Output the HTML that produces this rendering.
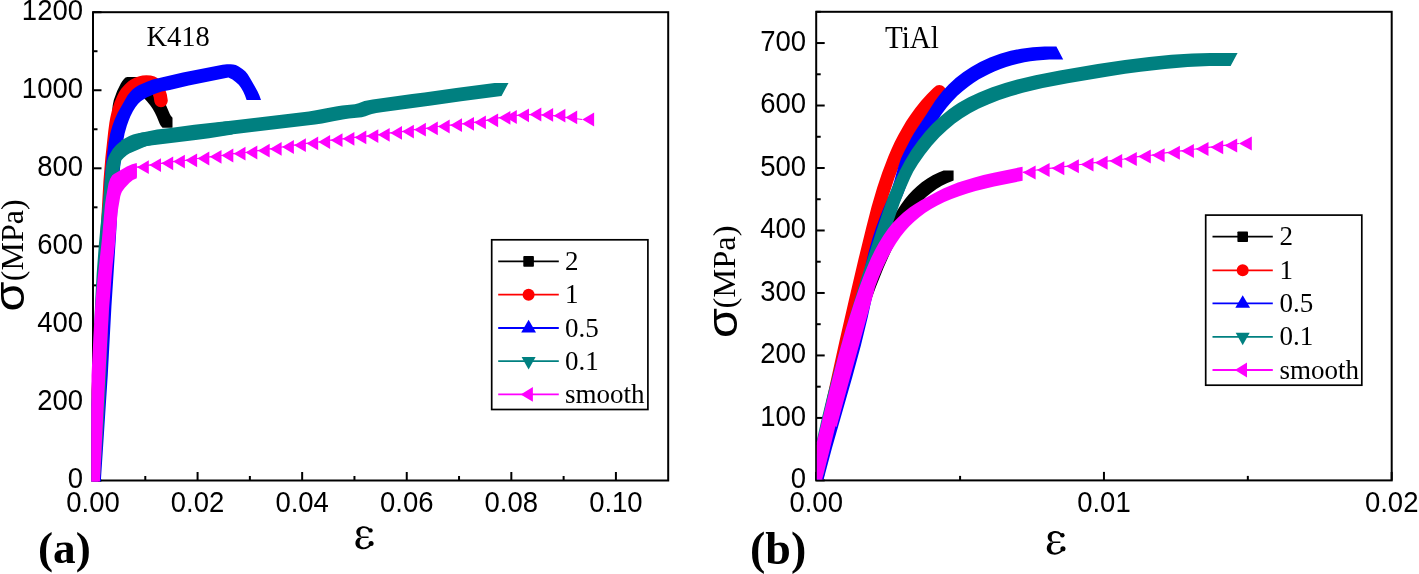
<!DOCTYPE html><html><head><meta charset="utf-8"><style>html,body{margin:0;padding:0;background:#fff;}svg{display:block;will-change:transform}</style></head><body>
<svg width="1419" height="574" viewBox="0 0 1419 574">
<rect width="1419" height="574" fill="#fff"/>
<rect x="93.0" y="12.2" width="575.20" height="468.30" fill="none" stroke="#000" stroke-width="2"/>
<line x1="93.00" y1="480.5" x2="93.00" y2="472.0" stroke="#000" stroke-width="2"/>
<line x1="197.58" y1="480.5" x2="197.58" y2="472.0" stroke="#000" stroke-width="2"/>
<line x1="302.16" y1="480.5" x2="302.16" y2="472.0" stroke="#000" stroke-width="2"/>
<line x1="406.75" y1="480.5" x2="406.75" y2="472.0" stroke="#000" stroke-width="2"/>
<line x1="511.33" y1="480.5" x2="511.33" y2="472.0" stroke="#000" stroke-width="2"/>
<line x1="615.91" y1="480.5" x2="615.91" y2="472.0" stroke="#000" stroke-width="2"/>
<line x1="145.29" y1="480.5" x2="145.29" y2="476.0" stroke="#000" stroke-width="2"/>
<line x1="249.87" y1="480.5" x2="249.87" y2="476.0" stroke="#000" stroke-width="2"/>
<line x1="354.45" y1="480.5" x2="354.45" y2="476.0" stroke="#000" stroke-width="2"/>
<line x1="459.04" y1="480.5" x2="459.04" y2="476.0" stroke="#000" stroke-width="2"/>
<line x1="563.62" y1="480.5" x2="563.62" y2="476.0" stroke="#000" stroke-width="2"/>
<line x1="93.0" y1="480.50" x2="101.5" y2="480.50" stroke="#000" stroke-width="2"/>
<line x1="93.0" y1="402.45" x2="101.5" y2="402.45" stroke="#000" stroke-width="2"/>
<line x1="93.0" y1="324.40" x2="101.5" y2="324.40" stroke="#000" stroke-width="2"/>
<line x1="93.0" y1="246.35" x2="101.5" y2="246.35" stroke="#000" stroke-width="2"/>
<line x1="93.0" y1="168.30" x2="101.5" y2="168.30" stroke="#000" stroke-width="2"/>
<line x1="93.0" y1="90.25" x2="101.5" y2="90.25" stroke="#000" stroke-width="2"/>
<line x1="93.0" y1="12.20" x2="101.5" y2="12.20" stroke="#000" stroke-width="2"/>
<line x1="93.0" y1="441.48" x2="97.5" y2="441.48" stroke="#000" stroke-width="2"/>
<line x1="93.0" y1="363.43" x2="97.5" y2="363.43" stroke="#000" stroke-width="2"/>
<line x1="93.0" y1="285.38" x2="97.5" y2="285.38" stroke="#000" stroke-width="2"/>
<line x1="93.0" y1="207.32" x2="97.5" y2="207.32" stroke="#000" stroke-width="2"/>
<line x1="93.0" y1="129.27" x2="97.5" y2="129.27" stroke="#000" stroke-width="2"/>
<line x1="93.0" y1="51.23" x2="97.5" y2="51.23" stroke="#000" stroke-width="2"/>
<text transform="translate(93.00,512.1) scale(1,1.09)" font-family="Liberation Sans, sans-serif" font-size="27.5" text-anchor="middle">0.00</text>
<text transform="translate(197.58,512.1) scale(1,1.09)" font-family="Liberation Sans, sans-serif" font-size="27.5" text-anchor="middle">0.02</text>
<text transform="translate(302.16,512.1) scale(1,1.09)" font-family="Liberation Sans, sans-serif" font-size="27.5" text-anchor="middle">0.04</text>
<text transform="translate(406.75,512.1) scale(1,1.09)" font-family="Liberation Sans, sans-serif" font-size="27.5" text-anchor="middle">0.06</text>
<text transform="translate(511.33,512.1) scale(1,1.09)" font-family="Liberation Sans, sans-serif" font-size="27.5" text-anchor="middle">0.08</text>
<text transform="translate(615.91,512.1) scale(1,1.09)" font-family="Liberation Sans, sans-serif" font-size="27.5" text-anchor="middle">0.10</text>
<text transform="translate(83,488.40) scale(1,1.09)" font-family="Liberation Sans, sans-serif" font-size="27.5" text-anchor="end">0</text>
<text transform="translate(83,410.35) scale(1,1.09)" font-family="Liberation Sans, sans-serif" font-size="27.5" text-anchor="end">200</text>
<text transform="translate(83,332.30) scale(1,1.09)" font-family="Liberation Sans, sans-serif" font-size="27.5" text-anchor="end">400</text>
<text transform="translate(83,254.25) scale(1,1.09)" font-family="Liberation Sans, sans-serif" font-size="27.5" text-anchor="end">600</text>
<text transform="translate(83,176.20) scale(1,1.09)" font-family="Liberation Sans, sans-serif" font-size="27.5" text-anchor="end">800</text>
<text transform="translate(83,98.15) scale(1,1.09)" font-family="Liberation Sans, sans-serif" font-size="27.5" text-anchor="end">1000</text>
<text transform="translate(83,20.10) scale(1,1.09)" font-family="Liberation Sans, sans-serif" font-size="27.5" text-anchor="end">1200</text>
<rect x="816.2" y="11.8" width="575.50" height="468.60" fill="none" stroke="#000" stroke-width="2"/>
<line x1="816.20" y1="480.4" x2="816.20" y2="471.9" stroke="#000" stroke-width="2"/>
<line x1="1103.95" y1="480.4" x2="1103.95" y2="471.9" stroke="#000" stroke-width="2"/>
<line x1="1391.70" y1="480.4" x2="1391.70" y2="471.9" stroke="#000" stroke-width="2"/>
<line x1="960.08" y1="480.4" x2="960.08" y2="475.9" stroke="#000" stroke-width="2"/>
<line x1="1247.83" y1="480.4" x2="1247.83" y2="475.9" stroke="#000" stroke-width="2"/>
<line x1="816.2" y1="480.40" x2="824.7" y2="480.40" stroke="#000" stroke-width="2"/>
<line x1="816.2" y1="417.92" x2="824.7" y2="417.92" stroke="#000" stroke-width="2"/>
<line x1="816.2" y1="355.44" x2="824.7" y2="355.44" stroke="#000" stroke-width="2"/>
<line x1="816.2" y1="292.96" x2="824.7" y2="292.96" stroke="#000" stroke-width="2"/>
<line x1="816.2" y1="230.48" x2="824.7" y2="230.48" stroke="#000" stroke-width="2"/>
<line x1="816.2" y1="168.00" x2="824.7" y2="168.00" stroke="#000" stroke-width="2"/>
<line x1="816.2" y1="105.52" x2="824.7" y2="105.52" stroke="#000" stroke-width="2"/>
<line x1="816.2" y1="43.04" x2="824.7" y2="43.04" stroke="#000" stroke-width="2"/>
<line x1="816.2" y1="449.16" x2="820.7" y2="449.16" stroke="#000" stroke-width="2"/>
<line x1="816.2" y1="386.68" x2="820.7" y2="386.68" stroke="#000" stroke-width="2"/>
<line x1="816.2" y1="324.20" x2="820.7" y2="324.20" stroke="#000" stroke-width="2"/>
<line x1="816.2" y1="261.72" x2="820.7" y2="261.72" stroke="#000" stroke-width="2"/>
<line x1="816.2" y1="199.24" x2="820.7" y2="199.24" stroke="#000" stroke-width="2"/>
<line x1="816.2" y1="136.76" x2="820.7" y2="136.76" stroke="#000" stroke-width="2"/>
<line x1="816.2" y1="74.28" x2="820.7" y2="74.28" stroke="#000" stroke-width="2"/>
<line x1="816.2" y1="11.80" x2="820.7" y2="11.80" stroke="#000" stroke-width="2"/>
<text transform="translate(816.20,512.1) scale(1,1.09)" font-family="Liberation Sans, sans-serif" font-size="27.5" text-anchor="middle">0.00</text>
<text transform="translate(1103.95,512.1) scale(1,1.09)" font-family="Liberation Sans, sans-serif" font-size="27.5" text-anchor="middle">0.01</text>
<text transform="translate(1391.70,512.1) scale(1,1.09)" font-family="Liberation Sans, sans-serif" font-size="27.5" text-anchor="middle">0.02</text>
<text transform="translate(806,488.30) scale(1,1.09)" font-family="Liberation Sans, sans-serif" font-size="27.5" text-anchor="end">0</text>
<text transform="translate(806,425.82) scale(1,1.09)" font-family="Liberation Sans, sans-serif" font-size="27.5" text-anchor="end">100</text>
<text transform="translate(806,363.34) scale(1,1.09)" font-family="Liberation Sans, sans-serif" font-size="27.5" text-anchor="end">200</text>
<text transform="translate(806,300.86) scale(1,1.09)" font-family="Liberation Sans, sans-serif" font-size="27.5" text-anchor="end">300</text>
<text transform="translate(806,238.38) scale(1,1.09)" font-family="Liberation Sans, sans-serif" font-size="27.5" text-anchor="end">400</text>
<text transform="translate(806,175.90) scale(1,1.09)" font-family="Liberation Sans, sans-serif" font-size="27.5" text-anchor="end">500</text>
<text transform="translate(806,113.42) scale(1,1.09)" font-family="Liberation Sans, sans-serif" font-size="27.5" text-anchor="end">600</text>
<text transform="translate(806,50.94) scale(1,1.09)" font-family="Liberation Sans, sans-serif" font-size="27.5" text-anchor="end">700</text>
<path d="M95.9,356.0 91.5,433.0 91.5,481.5 99.2,481.5 105.6,372.7 109.2,300.6 114.3,214.7 116.6,185.5 120.5,145.0 121.5,129.0 122.3,118.4 122.8,114.3 123.5,111.4 126.1,103.7 128.0,99.1 130.1,94.7 132.0,91.4 133.9,89.0 139.9,94.1 143.1,97.1 146.9,101.2 150.4,105.5 152.8,109.0 154.9,112.7 156.7,116.6 159.8,124.1 160.8,125.7 162.5,127.7 172.5,127.7 172.5,117.7 170.8,115.7 169.8,114.1 165.4,103.8 164.0,101.0 162.2,98.0 159.6,94.5 156.9,91.2 154.0,88.0 150.8,84.9 143.6,78.8 141.4,77.8 138.8,77.1 127.4,77.0 125.5,77.6 124.0,78.9 122.4,80.9 120.8,83.5 117.1,91.1 113.8,100.1 112.7,105.5 111.5,118.4 110.5,135.6 106.7,174.3 104.4,203.5 99.2,291.2Z" fill="#000000"/>
<path d="M99.7,481.5 116.8,183.3 118.7,159.7 121.5,134.1 122.7,124.6 123.7,119.5 125.4,112.3 127.0,107.1 129.4,101.3 131.5,97.7 134.2,94.4 137.3,91.8 139.8,90.3 143.2,89.1 146.4,88.7 149.6,89.1 150.3,90.0 151.8,92.6 153.2,95.8 153.7,97.5 154.4,101.8 154.8,103.1 155.4,104.3 156.2,105.3 157.2,106.1 158.4,106.7 159.7,107.1 161.0,107.2 162.3,107.1 163.6,106.7 164.8,106.1 165.8,105.3 166.6,104.3 167.2,103.1 167.6,101.8 167.8,100.5 166.8,94.3 164.9,88.8 161.9,83.0 159.6,79.9 157.3,77.9 154.5,76.5 150.8,75.6 146.4,75.2 142.5,75.5 139.3,76.2 134.7,77.8 130.8,79.8 128.3,81.6 124.6,84.9 121.3,88.7 119.3,91.7 117.0,96.2 114.8,101.4 113.4,105.4 111.8,110.9 110.3,117.5 109.4,122.6 108.2,131.4 105.3,158.3 103.4,181.6 91.5,390.4 91.5,481.5Z" fill="#ff0000"/>
<path d="M100.8,481.5 107.8,374.5 111.4,306.9 116.1,234.1 119.3,176.1 121.0,158.4 123.0,142.1 124.6,133.5 126.8,125.7 128.5,120.9 130.4,116.3 132.9,111.3 135.4,107.3 138.1,103.8 140.8,101.3 143.3,99.4 146.6,97.6 155.2,93.8 161.8,91.6 169.9,89.9 188.8,85.4 227.2,77.8 228.4,77.6 230.4,78.4 232.1,79.3 235.7,81.9 238.8,84.8 241.0,87.7 243.2,91.4 245.0,95.4 246.6,99.9 261.0,99.9 259.4,95.4 257.6,91.4 249.8,77.7 247.5,74.1 245.2,71.3 242.4,68.9 238.7,66.4 235.8,65.0 233.1,64.4 230.7,64.2 226.9,64.3 222.5,64.8 182.8,72.5 152.8,79.5 146.9,81.7 138.8,85.3 135.5,87.2 132.6,89.5 130.1,92.2 127.5,95.6 117.6,113.0 114.8,119.2 112.4,125.7 110.2,133.5 108.6,142.1 106.7,157.7 105.0,175.5 101.6,234.7 97.0,305.7 94.2,361.5 91.5,404.9 91.5,481.5Z" fill="#0000ff"/>
<path d="M100.5,474.0 103.8,422.4 105.4,396.0 106.4,372.7 108.9,304.4 110.1,283.5 111.6,260.3 114.0,230.8 117.4,198.5 118.9,177.3 119.8,167.5 120.4,164.1 121.4,160.2 123.7,157.7 126.6,155.3 129.2,153.6 143.7,147.2 147.0,146.1 151.7,144.9 163.3,142.7 177.2,141.0 201.1,137.7 237.5,133.8 315.2,124.5 322.2,123.4 333.3,121.2 344.2,119.3 349.1,118.6 361.8,117.3 365.5,116.3 369.5,114.7 371.9,113.9 376.4,113.0 383.2,111.9 431.4,105.6 461.2,101.3 501.5,96.1 508.5,83.1 494.5,83.1 456.1,88.1 424.4,92.6 412.0,94.1 372.5,99.5 364.4,101.1 358.5,103.3 354.8,104.3 342.1,105.6 337.2,106.3 326.3,108.2 315.8,110.3 308.7,111.4 230.5,120.8 194.1,124.7 170.2,128.0 157.0,129.6 144.7,131.9 140.0,133.1 136.7,134.2 122.2,140.6 119.6,142.3 116.7,144.7 114.6,146.9 112.7,149.2 109.9,153.9 108.4,157.1 107.4,159.9 106.5,163.5 106.0,166.4 105.0,176.7 103.3,199.6 100.4,227.5 98.8,245.3 96.7,273.2 95.2,300.0 91.5,393.5 91.5,481.5 96.5,481.5Z" fill="#008080"/>
<path d="M136.0,133.7 133.1,134.6 129.3,136.1 121.0,140.5 128.0,153.5 134.6,149.9 137.9,148.4 142.4,146.9 146.5,145.9 195.8,140.1 209.2,138.2 232.5,134.5 239.5,121.5 225.5,121.5 191.8,126.7 155.0,131.2 142.2,132.5Z" fill="#008080"/>
<path d="M98.2,481.5 105.9,331.0 106.9,313.5 109.0,289.3 113.8,245.9 116.7,212.4 117.8,204.7 120.1,191.8 120.7,189.0 121.6,186.7 122.6,184.4 123.6,182.8 124.4,181.9 125.8,180.8 128.0,179.6 131.5,178.2 136.8,176.7 136.8,162.9 132.1,164.2 126.9,166.4 114.0,173.9 112.6,175.0 111.8,175.9 110.3,178.6 108.6,183.2 106.2,196.6 104.9,205.5 101.9,239.5 97.6,278.6 95.7,299.4 94.3,320.1 91.5,375.2 91.5,481.5Z" fill="#ff00ff"/>
<path d="M99.9,481.5 105.2,377.7 108.9,310.7 111.7,274.9 112.7,264.2 114.8,245.8 117.5,213.2 118.3,207.7 120.3,196.3 121.0,194.0 121.9,191.8 123.3,189.7 124.8,187.8 129.5,182.7 132.9,180.1 136.8,178.3 136.8,164.5 133.5,166.0 120.1,173.8 116.4,177.1 111.8,182.3 109.9,185.4 108.8,188.3 106.6,200.2 105.7,206.3 103.0,238.9 100.1,265.8 97.8,294.7 95.8,325.6 91.5,407.9 91.5,481.5Z" fill="#ff00ff"/>
<polyline points="137.0,167.2 149.2,165.1 161.4,163.3 173.1,161.6 185.3,160.3 197.5,158.5 209.7,156.8 221.5,155.5 233.7,153.7 245.5,152.5 257.9,150.7 269.8,148.9 282.1,147.0 294.1,145.2 306.4,143.4 318.3,142.0 330.7,140.2 342.6,138.8 354.5,137.4 366.5,136.1 377.9,134.8 390.2,132.9 402.1,131.6 414.1,129.7 426.0,128.4 437.9,126.5 450.2,125.2 462.2,123.8 474.1,122.4 486.3,120.3 498.6,117.8 505.0,117.0 517.2,115.3 529.5,114.5 541.3,114.9 553.6,115.7 565.4,117.4 582.3,119.5" fill="none" stroke="#ff00ff" stroke-width="1.2"/>
<polygon points="137.0,167.2 148.8,160.3 148.8,174.1" fill="#ff00ff"/>
<polygon points="149.2,165.1 161.0,158.2 161.0,172.0" fill="#ff00ff"/>
<polygon points="161.4,163.3 173.2,156.4 173.2,170.2" fill="#ff00ff"/>
<polygon points="173.1,161.6 184.9,154.7 184.9,168.5" fill="#ff00ff"/>
<polygon points="185.3,160.3 197.1,153.4 197.1,167.2" fill="#ff00ff"/>
<polygon points="197.5,158.5 209.3,151.6 209.3,165.4" fill="#ff00ff"/>
<polygon points="209.7,156.8 221.5,149.9 221.5,163.7" fill="#ff00ff"/>
<polygon points="221.5,155.5 233.3,148.6 233.3,162.4" fill="#ff00ff"/>
<polygon points="233.7,153.7 245.5,146.8 245.5,160.6" fill="#ff00ff"/>
<polygon points="245.5,152.5 257.3,145.6 257.3,159.4" fill="#ff00ff"/>
<polygon points="257.9,150.7 269.7,143.8 269.7,157.6" fill="#ff00ff"/>
<polygon points="269.8,148.9 281.6,142.0 281.6,155.8" fill="#ff00ff"/>
<polygon points="282.1,147.0 293.9,140.1 293.9,153.9" fill="#ff00ff"/>
<polygon points="294.1,145.2 305.9,138.3 305.9,152.1" fill="#ff00ff"/>
<polygon points="306.4,143.4 318.2,136.5 318.2,150.3" fill="#ff00ff"/>
<polygon points="318.3,142.0 330.1,135.1 330.1,148.9" fill="#ff00ff"/>
<polygon points="330.7,140.2 342.5,133.3 342.5,147.1" fill="#ff00ff"/>
<polygon points="342.6,138.8 354.4,131.9 354.4,145.7" fill="#ff00ff"/>
<polygon points="354.5,137.4 366.3,130.5 366.3,144.3" fill="#ff00ff"/>
<polygon points="366.5,136.1 378.3,129.2 378.3,143.0" fill="#ff00ff"/>
<polygon points="377.9,134.8 389.7,127.9 389.7,141.7" fill="#ff00ff"/>
<polygon points="390.2,132.9 402.0,126.0 402.0,139.8" fill="#ff00ff"/>
<polygon points="402.1,131.6 413.9,124.7 413.9,138.5" fill="#ff00ff"/>
<polygon points="414.1,129.7 425.9,122.8 425.9,136.6" fill="#ff00ff"/>
<polygon points="426.0,128.4 437.8,121.5 437.8,135.3" fill="#ff00ff"/>
<polygon points="437.9,126.5 449.7,119.6 449.7,133.4" fill="#ff00ff"/>
<polygon points="450.2,125.2 462.0,118.3 462.0,132.1" fill="#ff00ff"/>
<polygon points="462.2,123.8 474.0,116.9 474.0,130.7" fill="#ff00ff"/>
<polygon points="474.1,122.4 485.9,115.5 485.9,129.3" fill="#ff00ff"/>
<polygon points="486.3,120.3 498.1,113.4 498.1,127.2" fill="#ff00ff"/>
<polygon points="498.6,117.8 510.4,110.9 510.4,124.7" fill="#ff00ff"/>
<polygon points="505.0,117.0 516.8,110.1 516.8,123.9" fill="#ff00ff"/>
<polygon points="517.2,115.3 529.0,108.4 529.0,122.2" fill="#ff00ff"/>
<polygon points="529.5,114.5 541.3,107.6 541.3,121.4" fill="#ff00ff"/>
<polygon points="541.3,114.9 553.1,108.0 553.1,121.8" fill="#ff00ff"/>
<polygon points="553.6,115.7 565.4,108.8 565.4,122.6" fill="#ff00ff"/>
<polygon points="565.4,117.4 577.2,110.5 577.2,124.3" fill="#ff00ff"/>
<polygon points="582.3,119.5 594.1,112.6 594.1,126.4" fill="#ff00ff"/>
<path d="M829.4,398.5 816.9,450.2 816.9,479.6 822.2,479.6 841.8,398.6 848.4,373.3 854.7,350.6 861.6,327.9 868.6,306.7 875.9,286.9 883.5,267.9 891.3,250.4 899.3,234.4 905.9,222.4 909.1,217.4 912.4,212.6 916.7,207.0 921.4,201.7 926.0,197.1 931.0,192.9 936.4,189.0 941.7,185.8 947.4,183.0 953.6,180.5 953.6,170.5 943.6,170.5 938.6,172.5 932.8,175.2 927.4,178.4 921.9,182.2 916.9,186.4 912.6,190.4 908.6,194.7 904.9,199.3 901.1,204.5 897.5,209.9 893.8,216.0 890.1,222.8 886.0,230.7 876.9,250.2 868.3,270.7 860.0,292.7 852.1,316.2 844.7,340.6 837.1,368.0Z" fill="#000000"/>
<path d="M829.4,386.7 816.9,444.9 816.9,479.6 823.4,479.6 842.6,389.3 860.0,311.6 869.5,271.2 878.9,232.3 884.2,211.6 889.1,194.6 894.5,178.1 900.2,163.0 906.2,149.4 909.6,142.5 912.6,136.9 919.7,125.4 923.3,120.1 927.2,114.9 930.8,110.4 935.2,105.5 939.7,100.8 944.1,96.6 944.9,95.6 945.5,94.4 945.9,93.1 946.1,91.8 945.9,90.5 945.5,89.2 944.9,88.1 944.1,87.0 943.1,86.2 941.9,85.6 940.6,85.2 939.3,85.1 938.0,85.2 936.7,85.6 935.6,86.2 933.2,88.3 927.2,94.2 921.3,100.8 915.3,108.3 910.1,115.4 906.2,121.3 902.3,127.9 898.2,135.2 894.7,142.1 891.5,149.0 888.2,156.7 882.2,172.4 877.1,187.8 871.6,206.6 866.4,226.7 858.6,258.6 849.1,299.1 839.3,341.7Z" fill="#ff0000"/>
<path d="M838.9,376.9 816.9,453.7 816.9,479.6 823.6,479.6 832.0,447.9 852.2,377.4 860.9,345.5 867.8,316.9 878.9,265.2 881.9,252.9 884.9,241.9 888.7,229.9 892.7,218.6 896.6,209.1 902.9,194.8 905.3,188.6 907.5,181.7 911.8,166.6 914.1,159.8 916.9,153.2 920.5,146.5 924.0,140.9 932.8,128.0 941.0,115.1 946.8,107.3 951.8,101.4 957.3,95.8 963.1,90.7 969.1,85.9 974.0,82.5 979.0,79.3 984.2,76.4 989.6,73.7 995.0,71.2 1000.6,69.0 1006.2,67.0 1012.0,65.2 1017.9,63.7 1024.4,62.3 1030.4,61.3 1037.0,60.4 1049.4,59.5 1063.2,59.5 1056.4,46.5 1044.6,46.4 1032.7,47.2 1021.2,48.7 1010.5,50.8 1000.1,53.8 989.9,57.5 980.1,62.0 971.3,66.9 963.3,72.2 955.8,78.0 948.8,84.5 942.7,91.1 938.5,96.2 935.0,101.1 926.0,115.0 917.3,127.9 913.8,133.5 911.2,138.1 903.9,152.2 901.0,158.6 898.5,166.0 894.0,181.7 891.8,188.6 889.4,194.8 883.3,208.5 879.7,217.4 876.0,227.6 872.4,238.5 869.0,250.6 865.5,264.6 854.3,316.9 847.8,343.8Z" fill="#0000ff"/>
<path d="M821.5,419.4 816.9,439.7 816.9,479.6 820.9,479.6 824.0,474.0 829.4,446.5 835.8,418.3 843.0,389.2 851.4,358.1 861.9,322.0 874.5,280.8 891.3,227.8 896.0,214.0 900.0,202.6 905.1,189.6 910.4,177.5 913.2,171.7 918.1,163.8 924.6,154.4 931.7,145.5 939.4,137.1 947.2,129.7 954.6,123.6 962.4,118.1 970.5,113.1 979.0,108.6 988.8,104.2 999.4,100.1 1010.8,96.3 1022.9,92.8 1032.2,90.5 1042.8,88.1 1067.8,83.3 1108.1,76.4 1125.3,73.8 1140.7,71.7 1165.1,68.9 1187.7,67.1 1209.4,66.1 1230.6,66.0 1237.6,53.0 1210.2,53.0 1192.1,53.5 1171.2,54.8 1149.1,56.9 1124.8,59.9 1097.6,64.0 1059.6,70.5 1035.3,75.2 1019.4,78.9 1004.9,82.9 991.3,87.5 979.0,92.4 968.2,97.5 958.4,103.1 953.9,106.1 949.0,109.5 940.2,116.7 932.4,124.1 925.1,132.1 918.0,141.0 911.4,150.3 905.2,160.5 899.6,171.0 894.0,183.0 888.6,195.8 882.8,211.7 876.4,230.7 860.3,281.3 848.7,319.1 840.7,346.6 833.6,371.9 827.2,396.1Z" fill="#008080"/>
<path d="M816.9,441.9 816.9,479.6 822.1,479.6 828.6,454.2 843.0,395.2 849.6,368.9 857.1,341.6 864.7,316.7 869.3,302.9 874.0,289.8 878.8,277.3 883.1,267.3 887.5,258.1 891.7,250.2 896.0,243.2 900.6,236.5 905.0,231.0 909.3,226.3 914.3,221.5 919.6,217.0 925.2,212.8 931.1,209.0 937.4,205.5 944.4,202.1 951.6,199.0 959.1,196.2 967.3,193.5 975.6,191.1 994.2,186.5 1022.6,180.7 1022.6,166.7 993.6,172.7 983.4,175.1 974.4,177.4 966.1,179.9 957.9,182.6 950.5,185.4 943.3,188.6 937.4,191.5 921.2,200.2 915.1,203.9 909.8,207.5 903.5,212.6 897.9,217.7 892.7,223.1 887.6,229.5 883.3,235.7 879.0,242.7 875.0,250.0 871.1,258.1 867.2,267.0 862.9,277.7 858.3,290.2 853.8,303.4 845.8,328.8 838.0,356.7 830.5,385.9Z" fill="#ff00ff"/>
<path d="M829.9,396.7 823.6,420.0 836.6,427.0 847.5,386.7 874.4,290.0 874.4,276.0 861.4,283.0Z" fill="#ff00ff"/>
<polyline points="1022.8,172.4 1036.8,170.0 1051.5,168.2 1066.1,166.3 1080.7,164.5 1094.8,162.7 1109.4,160.9 1124.0,159.0 1138.0,156.6 1151.8,155.2 1167.1,152.7 1181.1,150.9 1195.7,149.0 1210.4,147.2 1224.4,145.4 1239.0,143.5" fill="none" stroke="#ff00ff" stroke-width="1.2"/>
<polygon points="1022.8,172.4 1035.6,165.4 1035.6,179.4" fill="#ff00ff"/>
<polygon points="1036.8,170.0 1049.6,163.0 1049.6,177.0" fill="#ff00ff"/>
<polygon points="1051.5,168.2 1064.3,161.2 1064.3,175.2" fill="#ff00ff"/>
<polygon points="1066.1,166.3 1078.9,159.3 1078.9,173.3" fill="#ff00ff"/>
<polygon points="1080.7,164.5 1093.5,157.5 1093.5,171.5" fill="#ff00ff"/>
<polygon points="1094.8,162.7 1107.6,155.7 1107.6,169.7" fill="#ff00ff"/>
<polygon points="1109.4,160.9 1122.2,153.9 1122.2,167.9" fill="#ff00ff"/>
<polygon points="1124.0,159.0 1136.8,152.0 1136.8,166.0" fill="#ff00ff"/>
<polygon points="1138.0,156.6 1150.8,149.6 1150.8,163.6" fill="#ff00ff"/>
<polygon points="1151.8,155.2 1164.6,148.2 1164.6,162.2" fill="#ff00ff"/>
<polygon points="1167.1,152.7 1179.9,145.7 1179.9,159.7" fill="#ff00ff"/>
<polygon points="1181.1,150.9 1193.9,143.9 1193.9,157.9" fill="#ff00ff"/>
<polygon points="1195.7,149.0 1208.5,142.0 1208.5,156.0" fill="#ff00ff"/>
<polygon points="1210.4,147.2 1223.2,140.2 1223.2,154.2" fill="#ff00ff"/>
<polygon points="1224.4,145.4 1237.2,138.4 1237.2,152.4" fill="#ff00ff"/>
<polygon points="1239.0,143.5 1251.8,136.5 1251.8,150.5" fill="#ff00ff"/>
<text transform="translate(146.5,45.6) scale(1,1.06)" font-family="Liberation Serif, serif" font-size="28.5">K418</text>
<text transform="translate(885,47.9) scale(1,1.06)" font-family="Liberation Serif, serif" font-size="29.1">TiAl</text>
<text transform="translate(24,311.6) rotate(-90) scale(1.12,1)" font-family="Liberation Sans, sans-serif" font-size="43.3">σ</text>
<text transform="translate(22.8,281.2) rotate(-90)" font-family="Liberation Serif, serif" font-size="32">(MPa)</text>
<text transform="translate(736.5,338.1) rotate(-90) scale(1.12,1)" font-family="Liberation Sans, sans-serif" font-size="43.3">σ</text>
<text transform="translate(734.6999999999999,308.5) rotate(-90)" font-family="Liberation Serif, serif" font-size="32.5">(MPa)</text>
<g transform="translate(350,522)" fill="#000"><path d="M19.6,6.6 C18,5 16,4.2 14,4.2 C9.5,4.2 6.3,6.5 6.3,10 C6.3,12.3 7.8,14 9.5,14.8 L11.2,14.2 C10.4,13.2 10.2,11.8 10.2,10.2 C10.2,7.4 11.8,6.0 14,6.0 C16,6.0 17.4,6.9 18.6,8.4 Z M9.5,15.2 C6.8,16.3 5.4,18.5 5.4,21.3 C5.4,25 8.8,27.3 13.3,27.3 C16.8,27.3 19.8,25.5 21.8,22.5 L20.3,21.3 C18.8,23.6 16.6,25.4 14,25.4 C11.3,25.4 9.6,23.6 9.6,21 C9.6,18.6 10.6,16.8 12,16.1 Z M9.5,14.4 L18.6,14.4 L18.6,16.0 L9.5,16.0 Z"/><circle cx="20.5" cy="8.4" r="2.2"/><circle cx="21.1" cy="21.5" r="2.5"/></g>
<g transform="translate(1041.2,526.8) scale(1.03,1.02)" fill="#000"><path d="M19.6,6.6 C18,5 16,4.2 14,4.2 C9.5,4.2 6.3,6.5 6.3,10 C6.3,12.3 7.8,14 9.5,14.8 L11.2,14.2 C10.4,13.2 10.2,11.8 10.2,10.2 C10.2,7.4 11.8,6.0 14,6.0 C16,6.0 17.4,6.9 18.6,8.4 Z M9.5,15.2 C6.8,16.3 5.4,18.5 5.4,21.3 C5.4,25 8.8,27.3 13.3,27.3 C16.8,27.3 19.8,25.5 21.8,22.5 L20.3,21.3 C18.8,23.6 16.6,25.4 14,25.4 C11.3,25.4 9.6,23.6 9.6,21 C9.6,18.6 10.6,16.8 12,16.1 Z M9.5,14.4 L18.6,14.4 L18.6,16.0 L9.5,16.0 Z"/><circle cx="20.5" cy="8.4" r="2.2"/><circle cx="21.1" cy="21.5" r="2.5"/></g>
<text x="38" y="563" font-family="Liberation Serif, serif" font-size="45.3" font-weight="bold">(a)</text>
<text x="750" y="564.3" font-family="Liberation Serif, serif" font-size="46" font-weight="bold">(b)</text>
<rect x="491.7" y="239.8" width="156.2" height="169.7" fill="#fff" stroke="#000" stroke-width="1.7"/>
<line x1="498.2" y1="261.4" x2="558.8" y2="261.4" stroke="#000000" stroke-width="1.8"/>
<rect x="523.3" y="256.1" width="10.6" height="10.6" fill="#000000" rx="0.8"/>
<text x="565" y="269.9" font-family="Liberation Serif, serif" font-size="27">2</text>
<line x1="498.2" y1="294.7" x2="558.8" y2="294.7" stroke="#ff0000" stroke-width="1.8"/>
<circle cx="528.6" cy="294.7" r="6" fill="#ff0000"/>
<text x="565" y="303.2" font-family="Liberation Serif, serif" font-size="27">1</text>
<line x1="498.2" y1="328" x2="558.8" y2="328" stroke="#0000ff" stroke-width="1.8"/>
<polygon points="528.6,319.8 536.0,332.4 521.2,332.4" fill="#0000ff"/>
<text x="565" y="336.5" font-family="Liberation Serif, serif" font-size="27">0.5</text>
<line x1="498.2" y1="361.1" x2="558.8" y2="361.1" stroke="#008080" stroke-width="1.8"/>
<polygon points="528.6,369.5 535.6,357.0 521.6,357.0" fill="#008080"/>
<text x="565" y="369.6" font-family="Liberation Serif, serif" font-size="27">0.1</text>
<line x1="498.2" y1="394.4" x2="558.8" y2="394.4" stroke="#ff00ff" stroke-width="1.8"/>
<polygon points="520.7,394.4 532.9,387.0 532.9,401.8" fill="#ff00ff"/>
<text x="565" y="402.9" font-family="Liberation Serif, serif" font-size="27">smooth</text>
<rect x="1205.7" y="215.1" width="156.1" height="170.1" fill="#fff" stroke="#000" stroke-width="1.7"/>
<line x1="1212.5" y1="236.7" x2="1272.8" y2="236.7" stroke="#000000" stroke-width="1.8"/>
<rect x="1237.4" y="231.4" width="10.6" height="10.6" fill="#000000" rx="0.8"/>
<text x="1279.5" y="245.2" font-family="Liberation Serif, serif" font-size="27">2</text>
<line x1="1212.5" y1="270.3" x2="1272.8" y2="270.3" stroke="#ff0000" stroke-width="1.8"/>
<circle cx="1242.7" cy="270.3" r="6" fill="#ff0000"/>
<text x="1279.5" y="278.8" font-family="Liberation Serif, serif" font-size="27">1</text>
<line x1="1212.5" y1="303.4" x2="1272.8" y2="303.4" stroke="#0000ff" stroke-width="1.8"/>
<polygon points="1242.7,295.2 1250.1,307.8 1235.3,307.8" fill="#0000ff"/>
<text x="1279.5" y="311.9" font-family="Liberation Serif, serif" font-size="27">0.5</text>
<line x1="1212.5" y1="336.8" x2="1272.8" y2="336.8" stroke="#008080" stroke-width="1.8"/>
<polygon points="1242.7,345.2 1249.7,332.7 1235.7,332.7" fill="#008080"/>
<text x="1279.5" y="345.3" font-family="Liberation Serif, serif" font-size="27">0.1</text>
<line x1="1212.5" y1="370" x2="1272.8" y2="370" stroke="#ff00ff" stroke-width="1.8"/>
<polygon points="1234.8,370 1247.0,362.6 1247.0,377.4" fill="#ff00ff"/>
<text x="1279.5" y="378.5" font-family="Liberation Serif, serif" font-size="27">smooth</text>
</svg></body></html>
